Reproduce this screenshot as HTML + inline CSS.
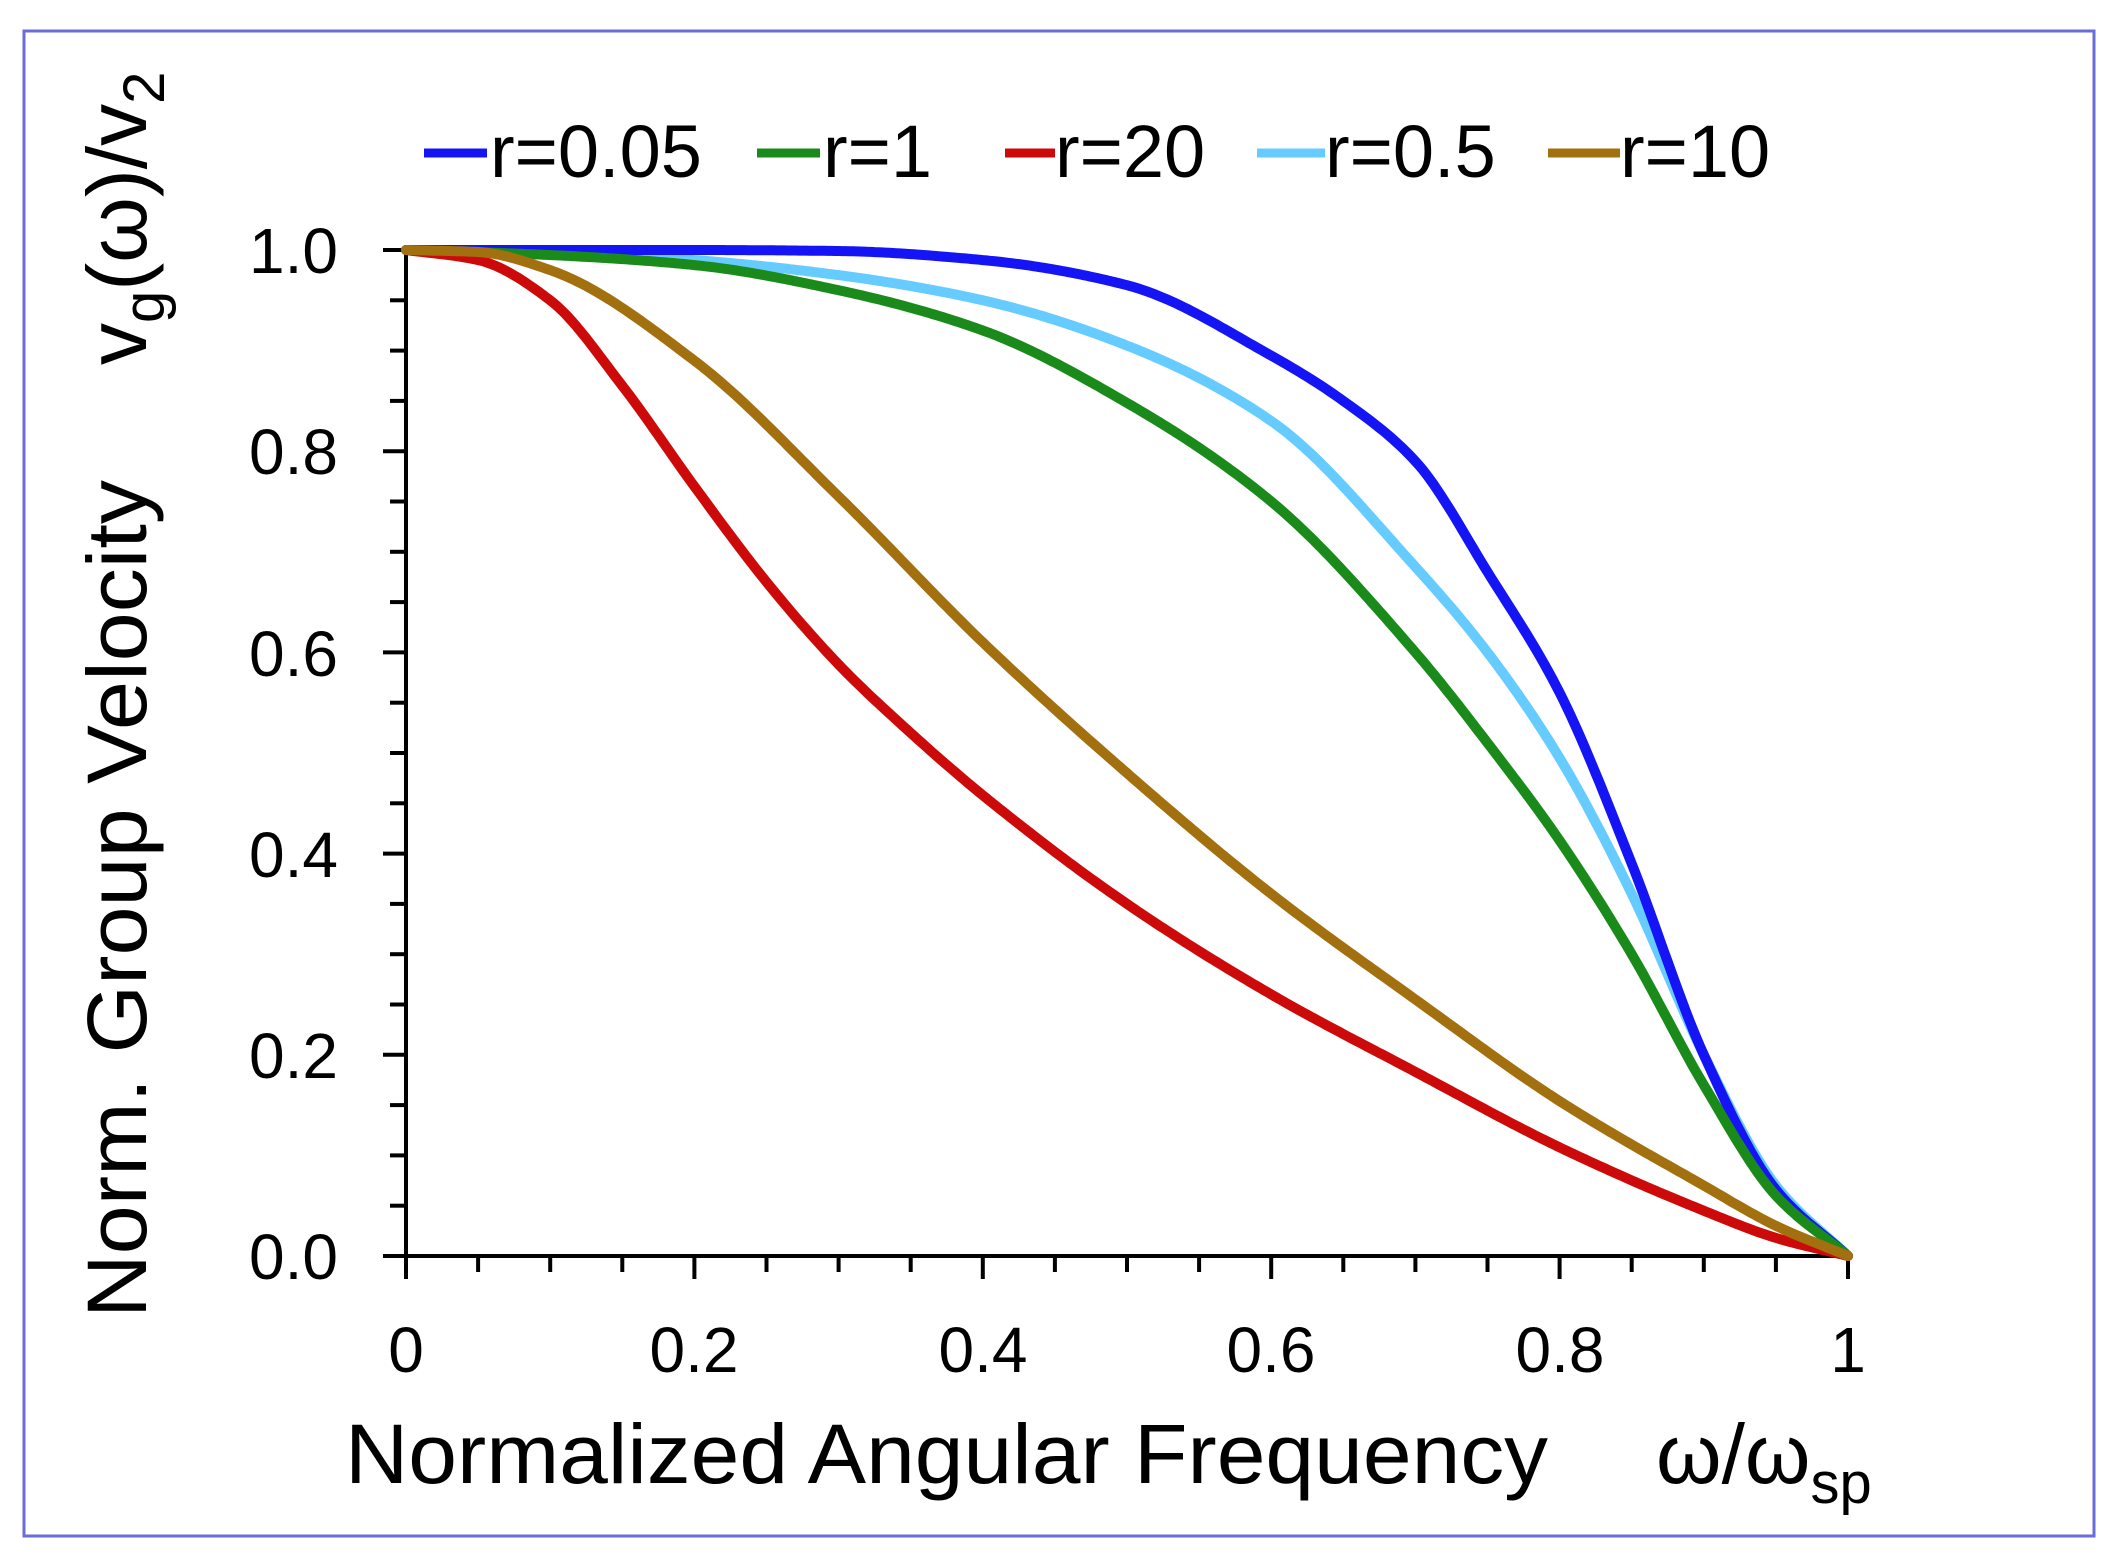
<!DOCTYPE html>
<html><head><meta charset="utf-8"><style>
html,body{margin:0;padding:0;background:#fff;}
svg{display:block;}
text{font-family:"Liberation Sans",sans-serif;fill:#000;}
</style></head><body>
<svg id="s" width="2120" height="1566" viewBox="0 0 2120 1566" xmlns="http://www.w3.org/2000/svg">
<rect x="24" y="31" width="2070" height="1505" fill="#fff" stroke="#6b6bdc" stroke-width="3"/>
<g id="ticks" stroke="#000" stroke-width="4"></g>
<line x1="406" y1="248" x2="406" y2="1258" stroke="#000" stroke-width="4"/>
<line x1="404" y1="1256" x2="1850" y2="1256" stroke="#000" stroke-width="4"/>
<g font-size="64" text-anchor="end">
<text x="338" y="273">1.0</text>
<text x="338" y="474">0.8</text>
<text x="338" y="676">0.6</text>
<text x="338" y="877">0.4</text>
<text x="338" y="1078">0.2</text>
<text x="338" y="1279">0.0</text>
</g>
<g font-size="64" text-anchor="middle">
<text x="406" y="1372">0</text>
<text x="694" y="1372">0.2</text>
<text x="983" y="1372">0.4</text>
<text x="1271" y="1372">0.6</text>
<text x="1560" y="1372">0.8</text>
<text x="1848" y="1372">1</text>
</g>
<text x="345" y="1483" font-size="84" textLength="1203" lengthAdjust="spacingAndGlyphs">Normalized Angular Frequency</text>
<text x="1656" y="1483" font-size="84">ω/ω<tspan font-size="58" dy="20">sp</tspan></text>
<text transform="translate(146,1318) rotate(-90)" font-size="84" textLength="838" lengthAdjust="spacingAndGlyphs">Norm. Group Velocity</text>
<text transform="translate(146,365) rotate(-90)" font-size="84">v<tspan font-size="58" dy="18">g</tspan><tspan dy="-18">(ω)/v</tspan><tspan font-size="58" dy="18">2</tspan></text>
<g id="curves" fill="none" stroke-width="10" stroke-linejoin="round" stroke-linecap="round"></g>
<g font-size="74">
<line x1="424" y1="153" x2="487" y2="153" stroke="#1414f5" stroke-width="9"/>
<text x="490" y="177">r=0.05</text>
<line x1="757" y1="153" x2="820" y2="153" stroke="#1a8a1a" stroke-width="9"/>
<text x="823" y="177">r=1</text>
<line x1="1005" y1="153" x2="1055" y2="153" stroke="#cc0a0a" stroke-width="9"/>
<text x="1055" y="177">r=20</text>
<line x1="1257" y1="153" x2="1325" y2="153" stroke="#66ccff" stroke-width="9"/>
<text x="1325" y="177">r=0.5</text>
<line x1="1548" y1="153" x2="1620" y2="153" stroke="#a2700e" stroke-width="9"/>
<text x="1620" y="177">r=10</text>
</g>
</svg>
<script>
var NS="http://www.w3.org/2000/svg";
var tg=document.getElementById('ticks');
function ln(x1,y1,x2,y2){var l=document.createElementNS(NS,'line');l.setAttribute('x1',x1);l.setAttribute('y1',y1);l.setAttribute('x2',x2);l.setAttribute('y2',y2);tg.appendChild(l);}
for(var i=0;i<=20;i++){var y=1256-1006*i/20;ln(i%4==0?383:390,y,406,y);var x=406+1442*i/20;ln(x,1256,x,i%4==0?1279:1272);}
function mono(xs,ys){var n=xs.length,d=[],m=[];for(var i=0;i<n-1;i++)d.push((ys[i+1]-ys[i])/(xs[i+1]-xs[i]));
m[0]=d[0];m[n-1]=d[n-2];for(var i=1;i<n-1;i++){if(d[i-1]*d[i]<=0)m[i]=0;else{var w1=2*(xs[i+1]-xs[i])+(xs[i]-xs[i-1]),w2=(xs[i+1]-xs[i])+2*(xs[i]-xs[i-1]);m[i]=(w1+w2)/(w1/d[i-1]+w2/d[i]);}}
return function(x){var k=0;while(k<n-2&&x>xs[k+1])k++;var h=xs[k+1]-xs[k],t=(x-xs[k])/h,t2=t*t,t3=t2*t;
return (2*t3-3*t2+1)*ys[k]+(t3-2*t2+t)*h*m[k]+(-2*t3+3*t2)*ys[k+1]+(t3-t2)*h*m[k+1];};}
var data=[
["#66ccff",[0,0.1,0.2,0.3,0.4,0.5,0.6,0.7,0.75,0.8,0.85,0.9,0.95,1],[1,0.998,0.99,0.975,0.95,0.905,0.83,0.685,0.6,0.495,0.36,0.2,0.07,0]],
["#1414f5",[0,0.1,0.2,0.3,0.4,0.5,0.6,0.65,0.7,0.75,0.8,0.85,0.9,0.95,1],[1,1,1,0.999,0.99,0.965,0.895,0.85,0.79,0.68,0.56,0.39,0.2,0.066,0]],
["#1a8a1a",[0,0.1,0.2,0.3,0.4,0.5,0.6,0.7,0.75,0.8,0.85,0.9,0.95,1],[1,0.995,0.985,0.96,0.92,0.848,0.75,0.6,0.51,0.413,0.3,0.17,0.06,0]],
["#cc0a0a",[0,0.05,0.1,0.15,0.2,0.25,0.3,0.35,0.4,0.5,0.6,0.7,0.8,0.9,0.95,1],[1,0.99,0.95,0.865,0.765,0.67,0.588,0.52,0.458,0.35,0.26,0.183,0.108,0.045,0.018,0]],
["#a2700e",[0,0.05,0.1,0.2,0.3,0.4,0.5,0.6,0.7,0.8,0.9,0.95,1],[1,0.998,0.98,0.89,0.755,0.61,0.48,0.36,0.255,0.154,0.07,0.03,0]]
];
var cg=document.getElementById('curves');
data.forEach(function(d){var f=mono(d[1],d[2]);var s="";
for(var i=0;i<=400;i++){var x=i/400;var v=f(x);s+=(i?"L":"M")+(406+1442*x).toFixed(1)+","+(1256-1006*v).toFixed(1);}
var e=document.createElementNS(NS,'path');e.setAttribute('d',s);e.setAttribute('stroke',d[0]);cg.appendChild(e);});
</script>
</body></html>
